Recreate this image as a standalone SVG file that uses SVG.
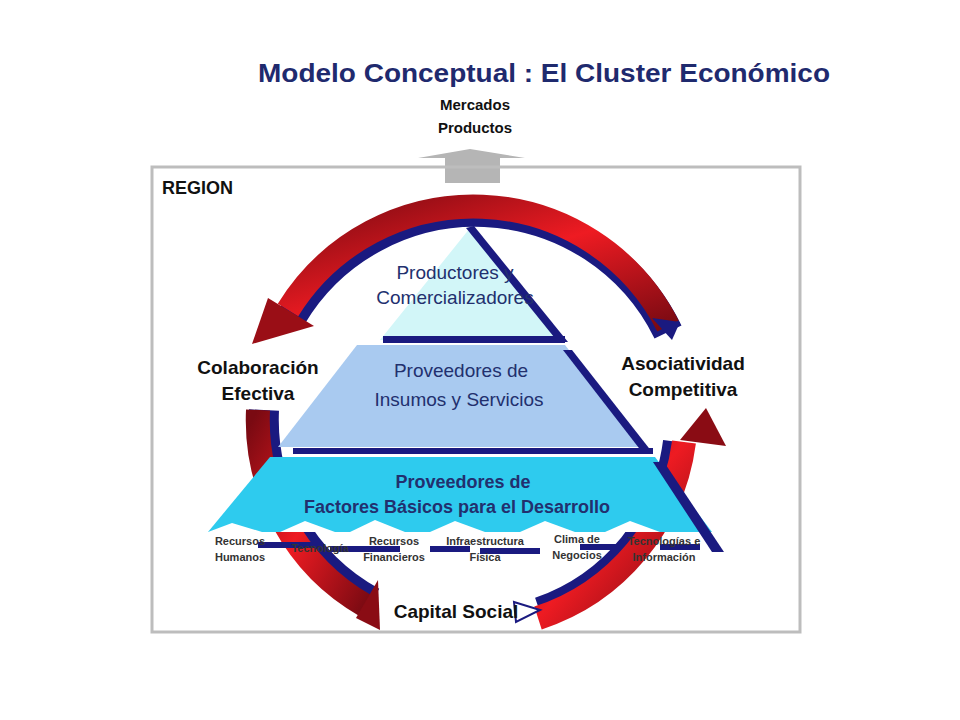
<svg xmlns="http://www.w3.org/2000/svg" width="960" height="720" viewBox="0 0 960 720">
<defs>
<linearGradient id="rg" x1="0" y1="0" x2="1" y2="1"><stop offset="0" stop-color="#7a0a12"/><stop offset="0.5" stop-color="#ee1b22"/><stop offset="1" stop-color="#7a0a12"/></linearGradient>
<style>
.t{font-family:"Liberation Sans",Arial,sans-serif;font-weight:bold;fill:#111}
.p{font-family:"Liberation Sans",Arial,sans-serif;fill:#22306e;text-anchor:middle}
.s{font-family:"Liberation Sans",Arial,sans-serif;font-weight:bold;font-size:11px;fill:#333;text-anchor:middle}
.blue{fill:none;stroke:#1a1a80;stroke-width:30}
.red{fill:none;stroke:url(#rg);stroke-width:24}
.edge{fill:#1a1a80}
</style>
</defs>
<rect width="960" height="720" fill="#fff"/>
<text x="258" y="82" textLength="572" lengthAdjust="spacingAndGlyphs" font-family="Liberation Sans, Arial, sans-serif" font-weight="bold" font-size="26" fill="#1f2a6e">Modelo Conceptual :  El Cluster Económico</text>
<g id="mercados">
<text class="t" x="475" y="110" font-size="15" text-anchor="middle">Mercados</text>
<text class="t" x="475" y="133" font-size="15" text-anchor="middle">Productos</text>
<polygon points="418,158 470,149 525,158 500,158 500,183 445,183 445,158" fill="#b5b5b5"/>
</g>
<g id="region">
<rect x="152" y="167" width="648" height="465" fill="none" stroke="#bdbdbd" stroke-width="3"/>
<text class="t" x="162" y="194" font-size="18">REGION</text>
</g>
<g id="connectors">
<path class="blue" d="M668,332 A214,214 0 0 0 292,316"/>
<path class="red" d="M668,326 A218,218 0 0 0 288,310"/>
<polygon points="252,344 314,326 268,298" fill="#9a0e16"/>
<polygon points="652,318 680,322 672,340" fill="#1a1a80"/>
<path class="blue" d="M264,410 A208,208 0 0 0 372,602"/>
<path class="red" d="M258,410 A214,214 0 0 0 366,606"/>
<polygon points="380,630 356,618 378,580" fill="#8a0c14"/>
<path class="blue" d="M540,612 A208,208 0 0 0 678,442"/>
<path class="red" d="M538,618 A214,214 0 0 0 684,442"/>
<polygon points="706,408 726,446 680,440" fill="#8a0c14"/>
<polygon points="514,602 540,610 516,622" fill="#fff" stroke="#1a1a80" stroke-width="2"/>
</g>
<g id="n1">
<polygon points="470,228 563,340 380,340" fill="#d2f6f8"/>
<polygon class="edge" points="466,228 474,226 568,342 558,342"/>
<rect x="383" y="336" width="182" height="7" class="edge"/>
<text class="p" x="455" y="279" font-size="19">Productores y</text>
<text class="p" x="455" y="304" font-size="19">Comercializadores</text>
</g>
<g id="n2">
<polygon points="357,345 565,345 645,447 278,447" fill="#a9caf0"/>
<polygon class="edge" points="563,350 572,350 652,452 642,452"/>
<rect x="293" y="448" width="360" height="6" class="edge"/>
<text class="p" x="461" y="377" font-size="19">Proveedores de</text>
<text class="p" x="459" y="406" font-size="19">Insumos y Servicios</text>
</g>
<g id="n3">
<polygon points="270,457 655,457 712,532 208,532" fill="#2ecbee"/>
<polygon class="edge" points="653,462 664,462 724,552 712,552"/>
<g fill="#fff">
<polygon points="208,532 232,523 262,532"/><polygon points="280,532 305,521 335,532"/>
<polygon points="350,532 375,520 405,532"/><polygon points="430,532 455,521 485,532"/>
<polygon points="520,532 545,521 575,532"/><polygon points="605,532 630,521 660,532"/>
</g>
<rect x="258" y="542" width="60" height="6" class="edge"/>
<rect x="330" y="546" width="70" height="6" class="edge"/>
<rect x="430" y="546" width="40" height="6" class="edge"/>
<rect x="480" y="548" width="60" height="6" class="edge"/>
<rect x="580" y="544" width="40" height="6" class="edge"/>
<rect x="660" y="544" width="40" height="6" class="edge"/>
<text class="p" x="463" y="488" font-size="18" font-weight="bold">Proveedores de</text>
<text class="p" x="457" y="513" font-size="18" font-weight="bold">Factores Básicos para el Desarrollo</text>
<text class="s" x="240" y="545">Recursos</text><text class="s" x="240" y="561">Humanos</text>
<text class="s" x="320" y="552">Tecnología</text>
<text class="s" x="394" y="545">Recursos</text><text class="s" x="394" y="561">Financieros</text>
<text class="s" x="485" y="545">Infraestructura</text><text class="s" x="485" y="561">Física</text>
<text class="s" x="577" y="543">Clima de</text><text class="s" x="577" y="559">Negocios</text>
<text class="s" x="664" y="545">Tecnologías e</text><text class="s" x="664" y="561">Información</text>
</g>
<g id="labels">
<text class="t" x="258" y="374" font-size="19" text-anchor="middle">Colaboración</text>
<text class="t" x="258" y="400" font-size="19" text-anchor="middle">Efectiva</text>
<text class="t" x="683" y="370" font-size="19" text-anchor="middle">Asociatividad</text>
<text class="t" x="683" y="396" font-size="19" text-anchor="middle">Competitiva</text>
<text class="t" x="456" y="618" font-size="19" text-anchor="middle">Capital Social</text>
</g>
</svg>
